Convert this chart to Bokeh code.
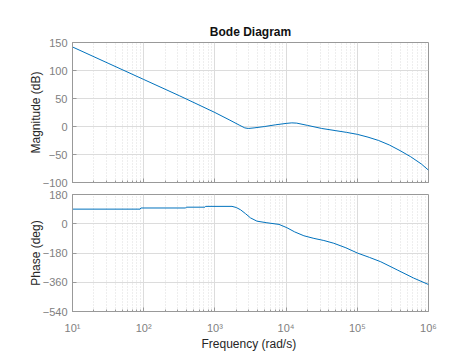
from bokeh.plotting import figure
from bokeh.layouts import column
from bokeh.embed import file_html
from bokeh.resources import INLINE
from bokeh.models import FixedTicker, Range1d

# Data (log10 frequency, value)
mag_logf = [1.0, 1.5, 2.0, 2.5, 3.0, 3.2, 3.35, 3.42, 3.47, 3.55, 3.7, 3.85, 4.0, 4.08,
            4.15, 4.3, 4.5, 4.7, 4.85, 5.0, 5.15, 5.3, 5.45, 5.6, 5.75, 5.9, 6.0]
mag_db = [142, 113, 84, 55, 25, 12, 2, -2.5, -3.5, -2.5, 0, 3, 5.5, 6.5,
          6, 2, -3.5, -7.5, -10.5, -14, -19, -25, -33, -43, -54, -67, -78]

ph_logf = [1.0, 1.95, 1.96, 2.59, 2.6, 2.86, 2.87, 3.24, 3.3, 3.36, 3.43, 3.5, 3.59, 3.73,
           3.9, 4.01, 4.12, 4.25, 4.39, 4.53, 4.67, 4.84, 5.0, 5.17, 5.33, 5.56, 5.79, 6.0]
ph_deg = [90, 90, 97, 97, 102, 102, 107, 107, 100, 86, 62, 36, 16, 6,
          -4, -24, -50, -74, -90, -103, -120, -148, -180, -207, -234, -284, -334, -374]

mag_ticks = [-100, -50, 0, 50, 100, 150]
ph_ticks = [-540, -360, -180, 0, 180]
x_ticks = [10, 100, 1000, 10000, 100000, 1000000]
x_labels = ["10¹", "10²", "10³", "10⁴", "10⁵", "10⁶"]

mag_f = [10 ** v for v in mag_logf]
ph_f = [10 ** v for v in ph_logf]

FONT = "Liberation Sans"
LINE = "#0072BD"
TICKC = "#808080"
LABC = "#262626"
GRIDC = "#dcdcdc"


def style(p, show_x_labels):
    p.outline_line_color = "#999999"
    p.outline_line_width = 1
    p.background_fill_color = "white"
    p.border_fill_color = "white"
    for ax in (p.xaxis[0], p.yaxis[0]):
        ax.axis_line_color = "#999999"
        ax.major_tick_line_color = "#999999"
        ax.minor_tick_line_color = "#999999"
        ax.major_tick_in = 4
        ax.major_tick_out = 0
        ax.minor_tick_in = 2
        ax.minor_tick_out = 0
        ax.major_label_text_font = FONT
        ax.major_label_text_font_size = "11px"
        ax.major_label_text_color = TICKC
        ax.axis_label_text_font = FONT
        ax.axis_label_text_font_size = "12px"
        ax.axis_label_text_font_style = "normal"
        ax.axis_label_text_color = LABC
    p.yaxis[0].minor_tick_line_color = None
    p.yaxis[0].major_label_standoff = 5
    p.yaxis[0].axis_label_standoff = -3
    p.xaxis[0].ticker = FixedTicker(ticks=x_ticks,
                                    minor_ticks=[m * 10 ** e for e in range(1, 6) for m in range(2, 10)])
    if show_x_labels:
        p.xaxis[0].major_label_overrides = {t: l for t, l in zip(x_ticks, x_labels)}
        p.xaxis[0].major_label_standoff = 10
    else:
        p.xaxis[0].major_label_text_color = None
        p.xaxis[0].major_label_standoff = 0
    p.xgrid.grid_line_color = GRIDC
    p.xgrid.minor_grid_line_color = GRIDC
    p.xgrid.minor_grid_line_dash = "1 2"
    p.ygrid.grid_line_color = GRIDC


p1 = figure(width=466, height=188, x_axis_type="log", output_backend="svg",
            toolbar_location=None, min_border_left=72, min_border_right=38,
            min_border_top=42, min_border_bottom=6,
            x_range=Range1d(10, 1e6), y_range=Range1d(-100, 150))
p1.title.text = "Bode Diagram"
p1.title.align = "center"
p1.title.text_font = FONT
p1.title.text_font_size = "12px"
p1.title.text_font_style = "bold"
p1.title.text_color = "#111111"
p1.title.standoff = 7
p1.line(mag_f, mag_db, line_color=LINE, line_width=1)
p1.yaxis[0].ticker = FixedTicker(ticks=mag_ticks)
p1.yaxis.axis_label = "Magnitude (dB)"
style(p1, False)

p2 = figure(width=466, height=165, x_axis_type="log", output_backend="svg",
            toolbar_location=None, min_border_left=72, min_border_right=38,
            min_border_top=6, min_border_bottom=39,
            x_range=Range1d(10, 1e6), y_range=Range1d(-540, 180))
p2.line(ph_f, ph_deg, line_color=LINE, line_width=1)
p2.yaxis[0].ticker = FixedTicker(ticks=ph_ticks)
p2.yaxis.axis_label = "Phase (deg)"
p2.xaxis.axis_label = "Frequency  (rad/s)"
style(p2, True)
p2.xaxis[0].axis_label_standoff = 0

layout = column(p1, p2, spacing=0)
open("out.html", "w").write(file_html(layout, INLINE))
